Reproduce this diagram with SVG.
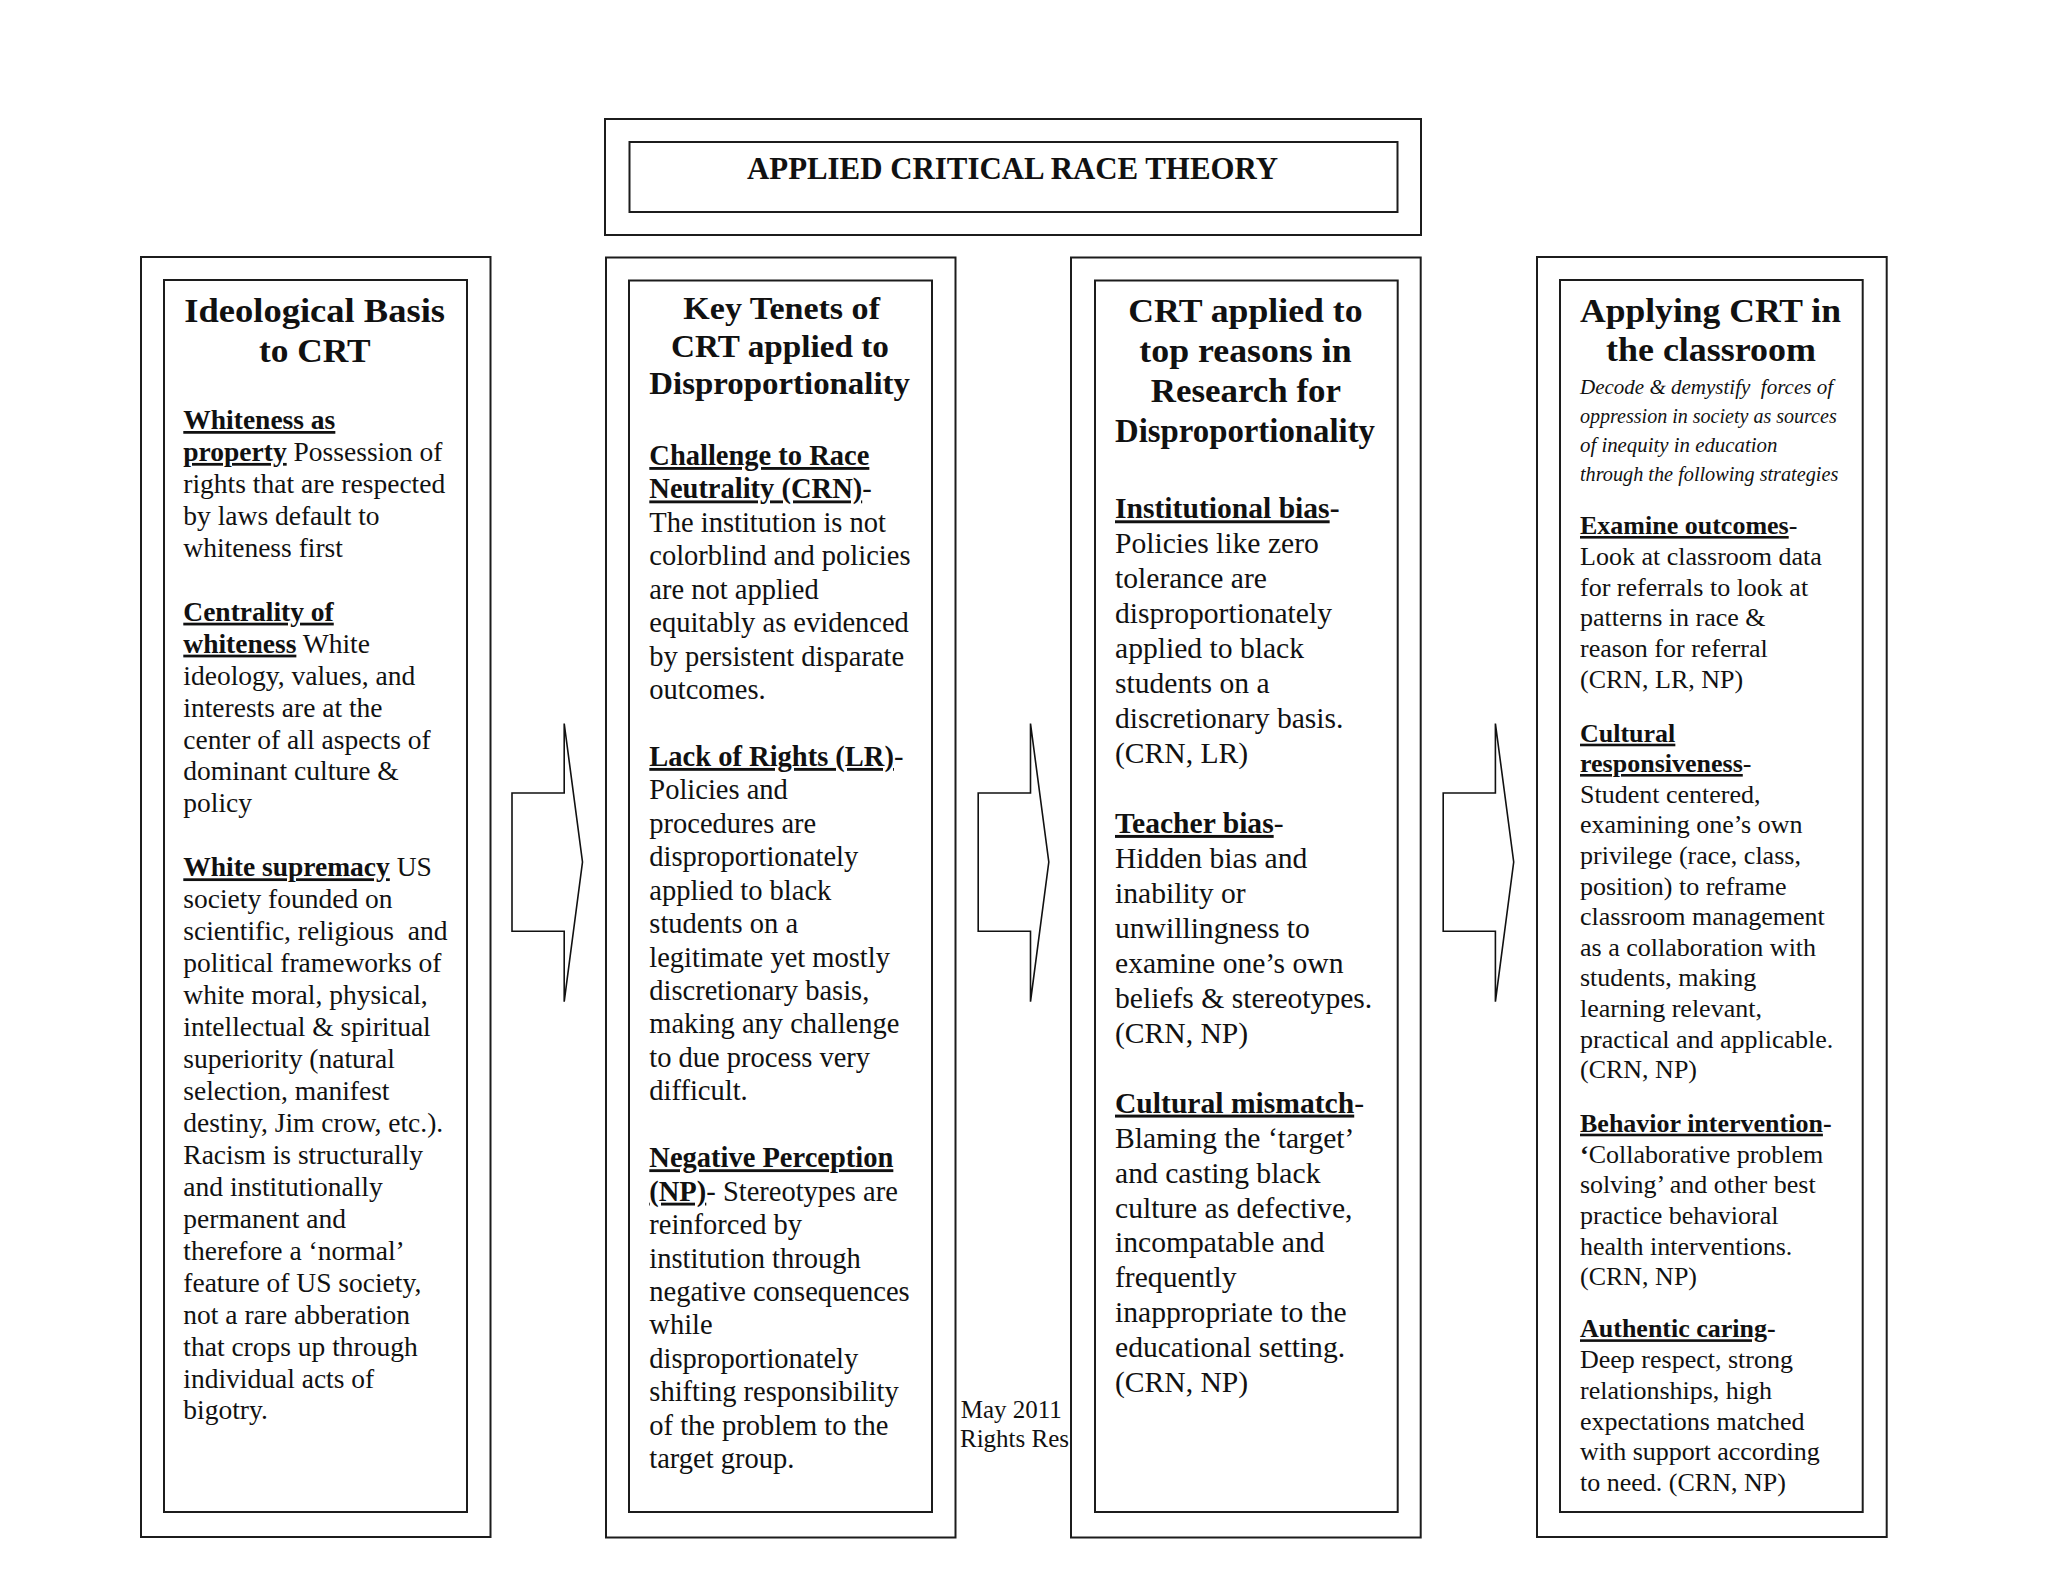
<svg xmlns="http://www.w3.org/2000/svg" width="2048" height="1582" viewBox="0 0 2048 1582">
<style>
.bg{fill:#fff}
.box{fill:#fff;stroke:#1c1c1c;stroke-width:2}
.arrow{fill:#fff;stroke:#111;stroke-width:1.6;stroke-linejoin:miter}
text{font-family:"Liberation Serif","Times New Roman",serif;fill:#111}
.title{font-size:31px;font-weight:bold}
.hd{font-size:34px;font-weight:bold}
.hd2{font-size:31.5px;font-weight:bold}
.c1{font-size:27.5px}
.c2{font-size:28.5px}
.c3{font-size:29.6px}
.c4{font-size:26px}
.it{font-size:20px;font-style:italic}
.b{font-weight:bold}
.u{text-decoration:underline}
.ft{font-size:25px}
</style>
<rect class="bg" x="0" y="0" width="2048" height="1582"/>

<g id="footer">
<text class="ft" x="960.7" y="1418.3">May 2011</text>
<text class="ft" x="960" y="1446.7">Rights Res</text>
</g>

<g id="title">
<rect class="box" x="605" y="119" width="816" height="116"/>
<rect class="box" x="629.5" y="142" width="768" height="70"/>
<text class="title" x="747" y="179" textLength="531" lengthAdjust="spacingAndGlyphs">APPLIED CRITICAL RACE THEORY</text>
</g>

<g id="col1">
<rect class="box" x="141" y="257" width="349.5" height="1280"/>
<rect class="box" x="164" y="280" width="303" height="1232"/>
<text class="hd" x="184.3" y="321.7" textLength="260.7" lengthAdjust="spacingAndGlyphs">Ideological Basis</text>
<text class="hd" x="259" y="361.7" textLength="111.7" lengthAdjust="spacingAndGlyphs">to CRT</text>
<g class="c1">
<text x="183.3" y="429"><tspan class="b u">Whiteness as</tspan></text>
<text x="183.3" y="460.95"><tspan class="b u">property</tspan> Possession of</text>
<text x="183.3" y="492.9">rights that are respected</text>
<text x="183.3" y="524.85">by laws default to</text>
<text x="183.3" y="556.8">whiteness first</text>
<text x="183.3" y="620.7"><tspan class="b u">Centrality of</tspan></text>
<text x="183.3" y="652.65"><tspan class="b u">whiteness</tspan> White</text>
<text x="183.3" y="684.6">ideology, values, and</text>
<text x="183.3" y="716.55">interests are at the</text>
<text x="183.3" y="748.5">center of all aspects of</text>
<text x="183.3" y="780.45">dominant culture &amp;</text>
<text x="183.3" y="812.4">policy</text>
<text x="183.3" y="876.3"><tspan class="b u">White supremacy</tspan> US</text>
<text x="183.3" y="908.25">society founded on</text>
<text x="183.3" y="940.2" xml:space="preserve">scientific, religious  and</text>
<text x="183.3" y="972.15">political frameworks of</text>
<text x="183.3" y="1004.1">white moral, physical,</text>
<text x="183.3" y="1036.05">intellectual &amp; spiritual</text>
<text x="183.3" y="1068">superiority (natural</text>
<text x="183.3" y="1099.95">selection, manifest</text>
<text x="183.3" y="1131.9">destiny, Jim crow, etc.).</text>
<text x="183.3" y="1163.85">Racism is structurally</text>
<text x="183.3" y="1195.8">and institutionally</text>
<text x="183.3" y="1227.75">permanent and</text>
<text x="183.3" y="1259.7">therefore a ‘normal’</text>
<text x="183.3" y="1291.65">feature of US society,</text>
<text x="183.3" y="1323.6">not a rare abberation</text>
<text x="183.3" y="1355.55">that crops up through</text>
<text x="183.3" y="1387.5">individual acts of</text>
<text x="183.3" y="1419.45">bigotry.</text>
</g>
</g>

<g id="col2">
<rect class="box" x="606" y="257.5" width="349.5" height="1280"/>
<rect class="box" x="629" y="280.5" width="303" height="1231.5"/>
<text class="hd2" x="683.3" y="319.3" textLength="196.7" lengthAdjust="spacingAndGlyphs">Key Tenets of</text>
<text class="hd2" x="671" y="356.7" textLength="218" lengthAdjust="spacingAndGlyphs">CRT applied to</text>
<text class="hd2" x="649.3" y="394" textLength="260.7" lengthAdjust="spacingAndGlyphs">Disproportionality</text>
<g class="c2">
<text x="649.3" y="465"><tspan class="b u">Challenge to Race</tspan></text>
<text x="649.3" y="498.44"><tspan class="b u">Neutrality (CRN)</tspan>-</text>
<text x="649.3" y="531.88">The institution is not</text>
<text x="649.3" y="565.32">colorblind and policies</text>
<text x="649.3" y="598.76">are not applied</text>
<text x="649.3" y="632.2">equitably as evidenced</text>
<text x="649.3" y="665.64">by persistent disparate</text>
<text x="649.3" y="699.08">outcomes.</text>
<text x="649.3" y="765.96"><tspan class="b u">Lack of Rights (LR)</tspan>-</text>
<text x="649.3" y="799.4">Policies and</text>
<text x="649.3" y="832.84">procedures are</text>
<text x="649.3" y="866.28">disproportionately</text>
<text x="649.3" y="899.72">applied to black</text>
<text x="649.3" y="933.16">students on a</text>
<text x="649.3" y="966.6">legitimate yet mostly</text>
<text x="649.3" y="1000.04">discretionary basis,</text>
<text x="649.3" y="1033.48">making any challenge</text>
<text x="649.3" y="1066.92">to due process very</text>
<text x="649.3" y="1100.36">difficult.</text>
<text x="649.3" y="1167.24"><tspan class="b u">Negative Perception</tspan></text>
<text x="649.3" y="1200.68"><tspan class="b u">(NP)</tspan>- Stereotypes are</text>
<text x="649.3" y="1234.12">reinforced by</text>
<text x="649.3" y="1267.56">institution through</text>
<text x="649.3" y="1301">negative consequences</text>
<text x="649.3" y="1334.44">while</text>
<text x="649.3" y="1367.88">disproportionately</text>
<text x="649.3" y="1401.32">shifting responsibility</text>
<text x="649.3" y="1434.76">of the problem to the</text>
<text x="649.3" y="1468.2">target group.</text>
</g>
</g>

<g id="col3">
<rect class="box" x="1071" y="257.5" width="349.7" height="1280"/>
<rect class="box" x="1095" y="280.5" width="302.7" height="1231.5"/>
<text class="hd" x="1128.3" y="321.7" textLength="234.3" lengthAdjust="spacingAndGlyphs">CRT applied to</text>
<text class="hd" x="1139.3" y="361.7" textLength="212.3" lengthAdjust="spacingAndGlyphs">top reasons in</text>
<text class="hd" x="1150.7" y="401.7" textLength="190.3" lengthAdjust="spacingAndGlyphs">Research for</text>
<text class="hd" x="1115" y="441.7" textLength="260" lengthAdjust="spacingAndGlyphs">Disproportionality</text>
<g class="c3">
<text x="1115" y="518.3"><tspan class="b u">Institutional bias</tspan><tspan class="b">-</tspan></text>
<text x="1115" y="553.26">Policies like zero</text>
<text x="1115" y="588.22">tolerance are</text>
<text x="1115" y="623.18">disproportionately</text>
<text x="1115" y="658.14">applied to black</text>
<text x="1115" y="693.1">students on a</text>
<text x="1115" y="728.06">discretionary basis.</text>
<text x="1115" y="763.02">(CRN, LR)</text>
<text x="1115" y="832.94"><tspan class="b u">Teacher bias</tspan>-</text>
<text x="1115" y="867.9">Hidden bias and</text>
<text x="1115" y="902.86">inability or</text>
<text x="1115" y="937.82">unwillingness to</text>
<text x="1115" y="972.78">examine one’s own</text>
<text x="1115" y="1007.74">beliefs &amp; stereotypes.</text>
<text x="1115" y="1042.7">(CRN, NP)</text>
<text x="1115" y="1112.62"><tspan class="b u">Cultural mismatch</tspan>-</text>
<text x="1115" y="1147.58">Blaming the ‘target’</text>
<text x="1115" y="1182.54">and casting black</text>
<text x="1115" y="1217.5">culture as defective,</text>
<text x="1115" y="1252.46">incompatable and</text>
<text x="1115" y="1287.42">frequently</text>
<text x="1115" y="1322.38">inappropriate to the</text>
<text x="1115" y="1357.34">educational setting.</text>
<text x="1115" y="1392.3">(CRN, NP)</text>
</g>
</g>

<g id="col4">
<rect class="box" x="1537" y="257" width="349.7" height="1280"/>
<rect class="box" x="1560" y="280" width="302.7" height="1232"/>
<text class="hd" x="1580" y="321.7" textLength="261" lengthAdjust="spacingAndGlyphs">Applying CRT in</text>
<text class="hd" x="1606" y="361" textLength="210" lengthAdjust="spacingAndGlyphs">the classroom</text>
<text class="it" x="1580" y="394" textLength="253" lengthAdjust="spacingAndGlyphs" xml:space="preserve">Decode &amp; demystify  forces of</text>
<text class="it" x="1580" y="422.9" textLength="256.7" lengthAdjust="spacingAndGlyphs">oppression in society as sources</text>
<text class="it" x="1580" y="451.8" textLength="197.3" lengthAdjust="spacingAndGlyphs">of inequity in education</text>
<text class="it" x="1580" y="480.7" textLength="258.3" lengthAdjust="spacingAndGlyphs">through the following strategies</text>
<g class="c4">
<text x="1580" y="534"><tspan class="b u">Examine outcomes</tspan>-</text>
<text x="1580" y="565">Look at classroom data</text>
<text x="1580" y="595.7">for referrals to look at</text>
<text x="1580" y="626.3">patterns in race &amp;</text>
<text x="1580" y="657">reason for referral</text>
<text x="1580" y="687.6">(CRN, LR, NP)</text>
<text x="1580" y="741.7"><tspan class="b u">Cultural</tspan></text>
<text x="1580" y="772"><tspan class="b u">responsiveness</tspan>-</text>
<text x="1580" y="802.7">Student centered,</text>
<text x="1580" y="833.3">examining one’s own</text>
<text x="1580" y="863.9">privilege (race, class,</text>
<text x="1580" y="894.5">position) to reframe</text>
<text x="1580" y="925.1">classroom management</text>
<text x="1580" y="955.7">as a collaboration with</text>
<text x="1580" y="986.3">students, making</text>
<text x="1580" y="1016.9">learning relevant,</text>
<text x="1580" y="1047.5">practical and applicable.</text>
<text x="1580" y="1078.1">(CRN, NP)</text>
<text x="1580" y="1131.7"><tspan class="b u">Behavior intervention</tspan><tspan class="b">-</tspan></text>
<text x="1580" y="1162.7"><tspan class="b">‘</tspan>Collaborative problem</text>
<text x="1580" y="1193.3">solving’ and other best</text>
<text x="1580" y="1223.9">practice behavioral</text>
<text x="1580" y="1254.5">health interventions.</text>
<text x="1580" y="1285.1">(CRN, NP)</text>
<text x="1580" y="1337.3"><tspan class="b u">Authentic caring</tspan><tspan class="b">-</tspan></text>
<text x="1580" y="1368.3">Deep respect, strong</text>
<text x="1580" y="1398.9">relationships, high</text>
<text x="1580" y="1429.5">expectations matched</text>
<text x="1580" y="1460.1">with support according</text>
<text x="1580" y="1490.7">to need. (CRN, NP)</text>
</g>
</g>

<g id="connectors">
<polygon class="arrow" points="512,793 564.2,793 564.2,723.5 582.5,862 564.2,1001.7 564.2,931.2 512,931.2"/>
<polygon class="arrow" points="978.2,793 1030.5,793 1030.5,723.5 1048.8,862 1030.5,1001.7 1030.5,931.2 978.2,931.2"/>
<polygon class="arrow" points="1443.2,793 1495.4,793 1495.4,723.5 1513.7,862 1495.4,1001.7 1495.4,931.2 1443.2,931.2"/>
</g>
</svg>
